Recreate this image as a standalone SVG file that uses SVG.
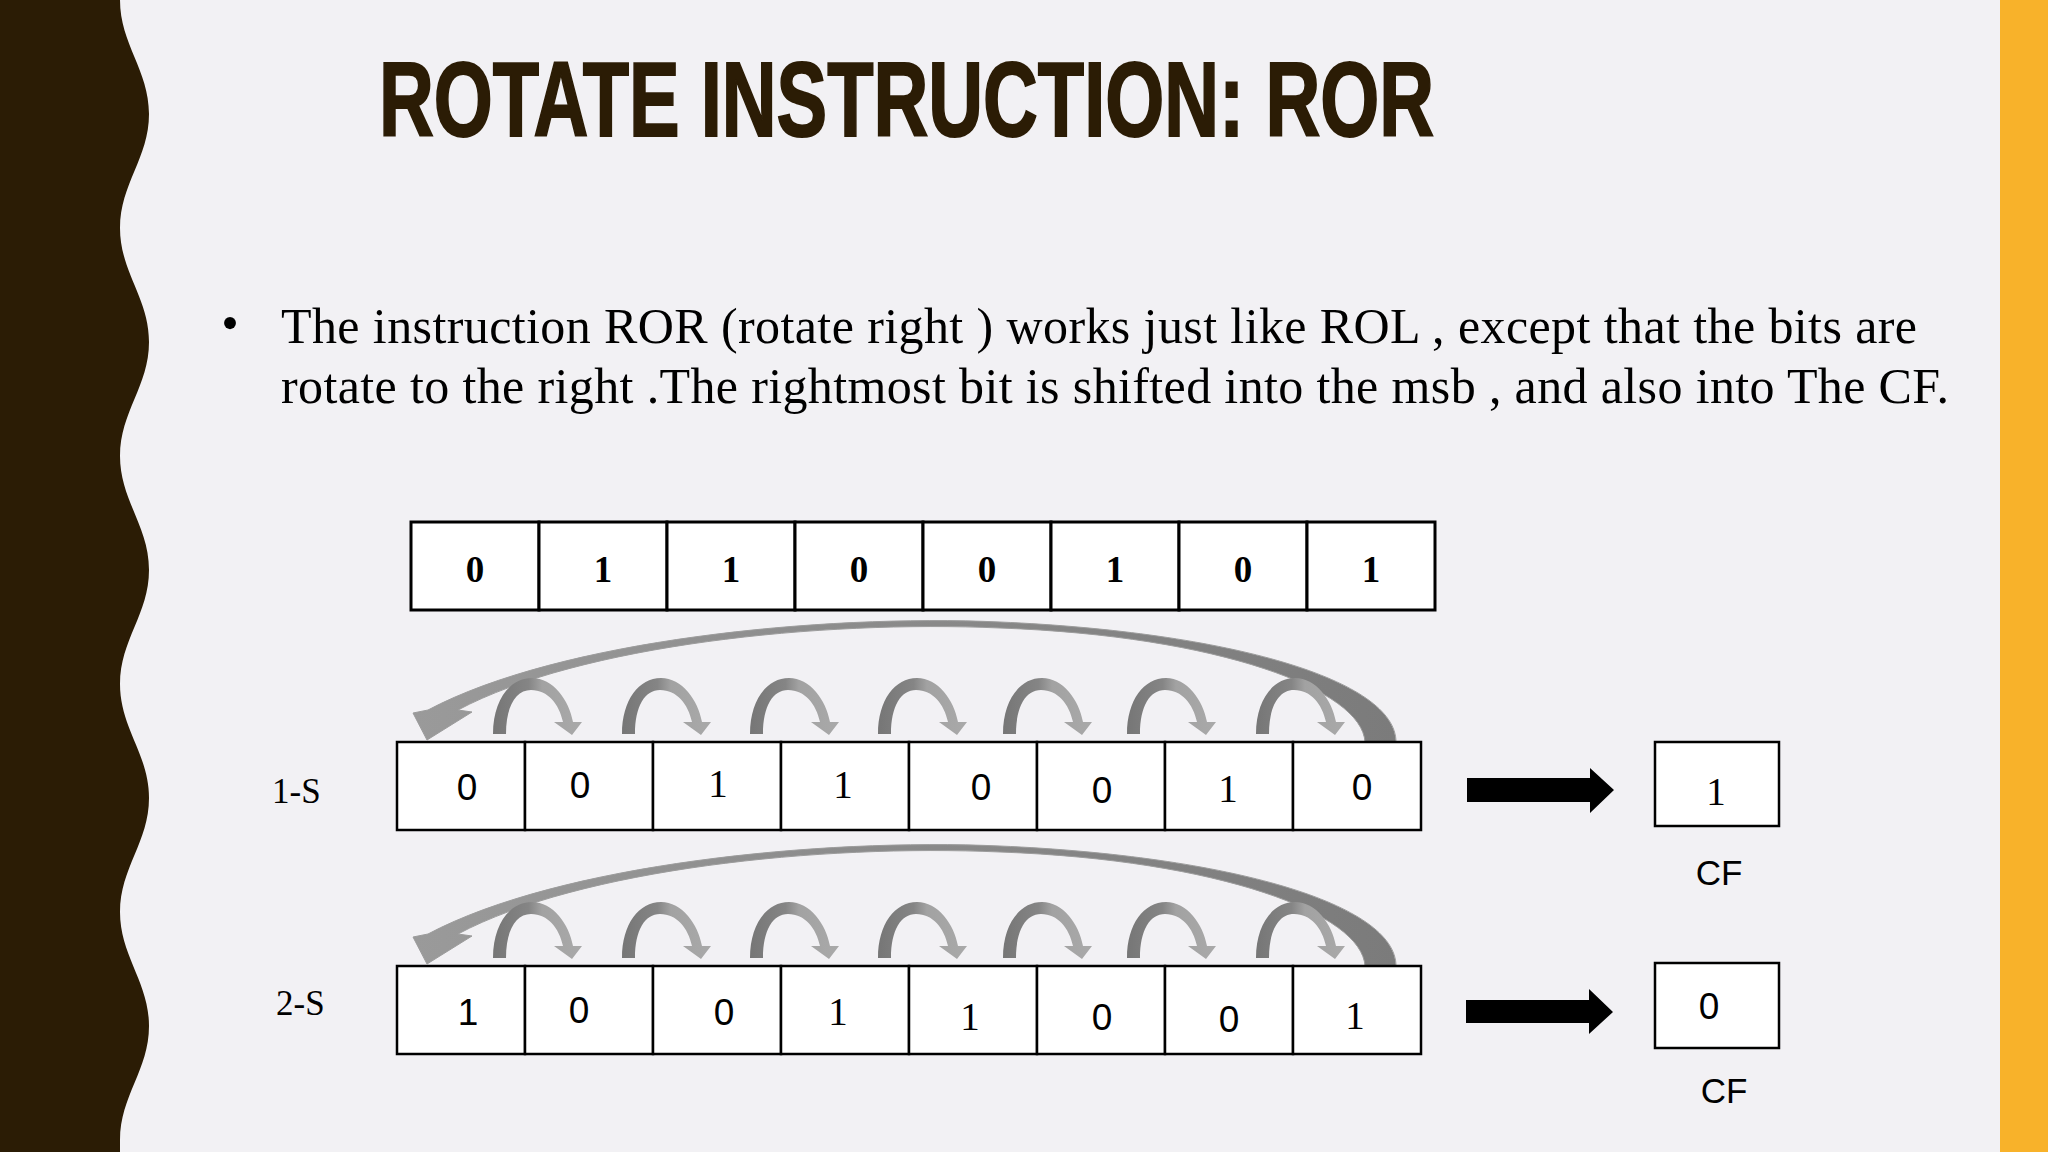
<svg xmlns="http://www.w3.org/2000/svg" xmlns:xlink="http://www.w3.org/1999/xlink" width="2048" height="1152" viewBox="0 0 2048 1152">
  <defs>
    <style>
      .cell { fill: #ffffff; stroke: #000000; stroke-width: 2.5; }
      .cellTop { fill: #ffffff; stroke: #000000; stroke-width: 3; }
      .bitB { font-family: "Liberation Serif", "Times New Roman", serif; font-weight: bold; font-size: 37px; fill: #000; text-anchor: middle; }
      .bitS { font-family: "Liberation Sans", Arial, sans-serif; font-size: 37px; fill: #000; text-anchor: middle; }
      .bitT { font-family: "Liberation Serif", "Times New Roman", serif; font-size: 39px; fill: #000; text-anchor: middle; }
      .lbl { font-family: "Liberation Serif", "Times New Roman", serif; font-size: 35px; fill: #000; }
      .cf { font-family: "Liberation Sans", Arial, sans-serif; font-size: 35px; fill: #000; text-anchor: middle; }
      .body { font-family: "Liberation Serif", "Times New Roman", serif; font-size: 50px; fill: #000; }
      .blk { fill: #000000; }
    </style>
    <linearGradient id="gSmall" x1="0" y1="0" x2="1" y2="0">
      <stop offset="0" stop-color="#767676"/>
      <stop offset="0.4" stop-color="#858585"/>
      <stop offset="0.55" stop-color="#a2a2a2"/>
      <stop offset="1" stop-color="#a9a9a9"/>
    </linearGradient>
    <linearGradient id="gBig" x1="0" y1="0" x2="1" y2="0">
      <stop offset="0" stop-color="#9a9a9a"/>
      <stop offset="0.5" stop-color="#8a8a8a"/>
      <stop offset="1" stop-color="#7b7b7b"/>
    </linearGradient>
    <path id="sa" fill="url(#gSmall)" d="M493,734 C493,700 510,678 532,678 C553,678 569,700 573,722 L582,722 L572,735 L554,722 L563,722 C559,704 548,690 531,690 C516,690 506,706 506,734 Z"/>
    <path id="ba" fill="url(#gBig)" stroke="#9c9c9c" stroke-width="1" d="M1396,742 C1396,680 1230,632 1000,622 C820,614 560,640 428,710 L413,713 L427,740 L472,712 L458,710 C580,645 820,620 1000,628 C1220,636 1362,690 1365,742 Z"/>
    <g id="arrowSet">
      <use xlink:href="#ba"/>
      <use xlink:href="#sa" x="0"/>
      <use xlink:href="#sa" x="129"/>
      <use xlink:href="#sa" x="257"/>
      <use xlink:href="#sa" x="385"/>
      <use xlink:href="#sa" x="510"/>
      <use xlink:href="#sa" x="634"/>
      <use xlink:href="#sa" x="763"/>
    </g>
  </defs>

  <!-- background -->
  <rect x="0" y="0" width="2048" height="1152" fill="#f2f1f4"/>
  <path fill="#2b1c05" d="M0,0 L120,0 C120,44 149,70 149,114 C149,158 120,184 120,228 C120,272 149,298 149,342 C149,386 120,412 120,456 C120,500 149,526 149,570 C149,614 120,640 120,684 C120,728 149,754 149,798 C149,842 120,868 120,912 C120,956 149,982 149,1026 C149,1070 120,1096 120,1140 L120,1152 L0,1152 Z"/>
  <rect x="2000" y="0" width="48" height="1152" fill="#f8b22a"/>

  <!-- title -->
  <g id="title">
    <text x="379" y="136" font-family="Liberation Sans, Arial, sans-serif" font-weight="bold" font-size="106" fill="#2b1c05" stroke="#2b1c05" stroke-width="2" textLength="1055" lengthAdjust="spacingAndGlyphs">ROTATE INSTRUCTION: ROR</text>
  </g>

  <!-- bullet text -->
  <g id="bullet">
    <text x="230" y="340" class="body" text-anchor="middle" font-size="44">•</text>
    <text x="281" y="343" class="body" textLength="1636" lengthAdjust="spacing">The instruction ROR (rotate right ) works just like ROL , except that the bits are</text>
    <text x="281" y="403" class="body" textLength="1668" lengthAdjust="spacing">rotate to the right .The rightmost bit is shifted into the msb , and also into The CF.</text>
  </g>

  <!-- original register -->
  <g id="reg0">
    <rect class="cellTop" x="411" y="522" width="128" height="88"/>
    <rect class="cellTop" x="539" y="522" width="128" height="88"/>
    <rect class="cellTop" x="667" y="522" width="128" height="88"/>
    <rect class="cellTop" x="795" y="522" width="128" height="88"/>
    <rect class="cellTop" x="923" y="522" width="128" height="88"/>
    <rect class="cellTop" x="1051" y="522" width="128" height="88"/>
    <rect class="cellTop" x="1179" y="522" width="128" height="88"/>
    <rect class="cellTop" x="1307" y="522" width="128" height="88"/>
    <text class="bitB" x="475" y="582">0</text>
    <text class="bitB" x="603" y="582">1</text>
    <text class="bitB" x="731" y="582">1</text>
    <text class="bitB" x="859" y="582">0</text>
    <text class="bitB" x="987" y="582">0</text>
    <text class="bitB" x="1115" y="582">1</text>
    <text class="bitB" x="1243" y="582">0</text>
    <text class="bitB" x="1371" y="582">1</text>
  </g>

  <!-- connectors -->
  <g id="connectors">
    <use xlink:href="#arrowSet"/>
    <use xlink:href="#arrowSet" transform="translate(0,224)"/>
    <path class="blk" d="M1467,778 L1590,778 L1590,768 L1614,790 L1590,813 L1590,802 L1467,802 Z"/>
    <path class="blk" d="M1466,1000 L1589,1000 L1589,989 L1613,1012 L1589,1034 L1589,1023 L1466,1023 Z"/>
  </g>

  <!-- after 1 shift -->
  <g id="reg1">
    <text class="lbl" x="272" y="803">1-S</text>
    <rect class="cell" x="397" y="742" width="128" height="88"/>
    <rect class="cell" x="525" y="742" width="128" height="88"/>
    <rect class="cell" x="653" y="742" width="128" height="88"/>
    <rect class="cell" x="781" y="742" width="128" height="88"/>
    <rect class="cell" x="909" y="742" width="128" height="88"/>
    <rect class="cell" x="1037" y="742" width="128" height="88"/>
    <rect class="cell" x="1165" y="742" width="128" height="88"/>
    <rect class="cell" x="1293" y="742" width="128" height="88"/>
    <text class="bitS" x="467" y="800">0</text>
    <text class="bitS" x="580" y="798">0</text>
    <text class="bitT" x="718" y="797">1</text>
    <text class="bitT" x="843" y="798">1</text>
    <text class="bitS" x="981" y="800">0</text>
    <text class="bitS" x="1102" y="803">0</text>
    <text class="bitT" x="1228" y="802">1</text>
    <text class="bitS" x="1362" y="800">0</text>
  </g>

  <g id="cf1">
    <rect class="cell" x="1655" y="742" width="124" height="84"/>
    <text class="bitT" x="1716" y="805">1</text>
    <text class="cf" x="1719" y="885">CF</text>
  </g>

  <!-- after 2 shifts -->
  <g id="reg2">
    <text class="lbl" x="276" y="1015">2-S</text>
    <rect class="cell" x="397" y="966" width="128" height="88"/>
    <rect class="cell" x="525" y="966" width="128" height="88"/>
    <rect class="cell" x="653" y="966" width="128" height="88"/>
    <rect class="cell" x="781" y="966" width="128" height="88"/>
    <rect class="cell" x="909" y="966" width="128" height="88"/>
    <rect class="cell" x="1037" y="966" width="128" height="88"/>
    <rect class="cell" x="1165" y="966" width="128" height="88"/>
    <rect class="cell" x="1293" y="966" width="128" height="88"/>
    <text class="bitS" x="468" y="1025">1</text>
    <text class="bitS" x="579" y="1023">0</text>
    <text class="bitS" x="724" y="1025">0</text>
    <text class="bitT" x="838" y="1025">1</text>
    <text class="bitT" x="970" y="1030">1</text>
    <text class="bitS" x="1102" y="1030">0</text>
    <text class="bitS" x="1229" y="1032">0</text>
    <text class="bitT" x="1355" y="1029">1</text>
  </g>

  <g id="cf2">
    <rect class="cell" x="1655" y="963" width="124" height="85"/>
    <text class="bitS" x="1709" y="1019">0</text>
    <text class="cf" x="1724" y="1103">CF</text>
  </g>
</svg>
